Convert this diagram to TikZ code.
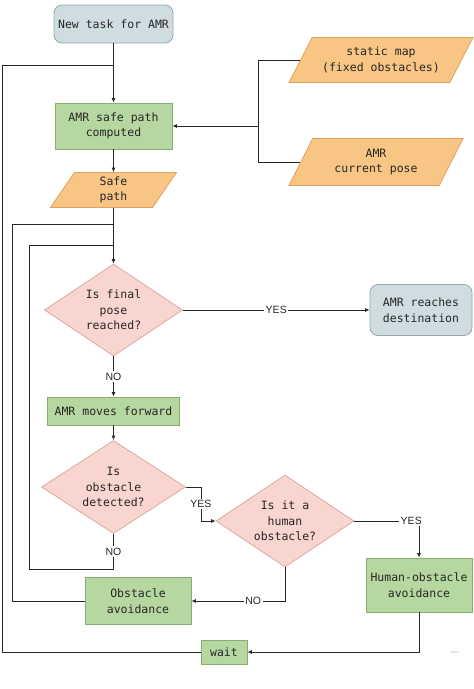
\documentclass[tikz,border=0pt]{standalone}
\usepackage{fontspec}
\setmonofont{DejaVu Sans Mono}
\setsansfont{Liberation Sans}
\usetikzlibrary{shapes.geometric,arrows.meta}

\definecolor{termfill}{HTML}{D0DDE0}
\definecolor{termline}{HTML}{97A6AA}
\definecolor{procfill}{HTML}{B7D7A1}
\definecolor{procline}{HTML}{88AD73}
\definecolor{iofill}{HTML}{F8C585}
\definecolor{ioline}{HTML}{DDA35E}
\definecolor{decfill}{HTML}{F8D5CF}
\definecolor{decline}{HTML}{DCAAA3}

\tikzset{
  txt/.style={align=center, font=\ttfamily\fontsize{11.5}{15.5}\selectfont, text=black!85},
  term/.style={txt, draw=termline, fill=termfill, rounded corners=8pt, line width=0.8pt},
  proc/.style={txt, draw=procline, fill=procfill, line width=0.8pt, inner xsep=1pt},
  io/.style={txt, draw=ioline, fill=iofill, trapezium, trapezium left angle=48,
    trapezium right angle=132, trapezium stretches body, line width=0.8pt, inner sep=0pt},
  decision/.style={txt, draw=decline, fill=decfill, diamond, aspect=1.5, inner sep=0pt, line width=0.8pt},
  line/.style={draw=black!85, line width=0.8pt},
  arr/.style={line, -{Latex[length=4.5pt,width=4pt]}},
  lbl/.style={font=\sffamily\fontsize{10.5}{12}\selectfont, fill=white, inner sep=1.5pt, text=black!85}
}

\begin{document}
\begin{tikzpicture}[x=1pt,y=-1pt]
\useasboundingbox (0,0) rectangle (474,689);

% left column
\node[term, minimum width=119pt, minimum height=38pt] (start) at (113.5,24) {New task for AMR};
\node[proc, minimum width=117pt, minimum height=46pt] (comp) at (113.5,126) {AMR safe path\\computed};
\node[io, minimum width=126pt, minimum height=35pt] (spath) at (113.5,190) {Safe\\path};
\node[decision, minimum width=138pt, minimum height=92pt] (d1) at (113.5,310) {Is final\\pose\\reached?};
\node[proc, minimum width=132pt, minimum height=28pt] (move) at (113.5,411) {AMR moves forward};
\node[decision, minimum width=144pt, minimum height=93pt] (d2) at (113.5,487) {Is\\obstacle\\detected?};
\node[proc, minimum width=106pt, minimum height=47pt] (avoid) at (138,601) {Obstacle\\avoidance};
\node[proc, minimum width=46pt, minimum height=24pt] (wait) at (224,652) {wait};

% right column
\node[io, minimum width=184pt, minimum height=45pt] (map) at (381,60) {static map\\(fixed obstacles)};
\node[io, minimum width=174pt, minimum height=47pt] (pose) at (376,162) {AMR\\current pose};
\node[term, minimum width=102pt, minimum height=51pt] (fin) at (421,310) {AMR reaches\\destination};
\node[decision, minimum width=138pt, minimum height=92pt] (d3) at (285,521) {Is it a\\human\\obstacle?};
\node[proc, minimum width=106pt, minimum height=54pt] (hum) at (419,585) {Human-obstacle\\avoidance};

\node[font=\sffamily\fontsize{4}{5}\selectfont, text=black!25] (miro) at (455,652) {miro};

% joins
\coordinate (m1) at (113.5,65);
\coordinate (m2) at (258,126);
\coordinate (m3) at (113.5,224);
\coordinate (m4) at (113.5,245);

\draw[arr] (start) -- (comp);
\draw[line] (map.west) -| (m2);
\draw[line] (pose.west) -| (m2);
\draw[arr] (m2) -- (comp.east);
\draw[arr] (comp) -- (spath);
\draw[arr] (spath.south) -- (d1.north);

\draw[arr] (d1.east) -- node[lbl]{YES} (fin.west);
\draw[arr] (d1.south) -- node[lbl]{NO} (move.north);
\draw[arr] (move) -- (d2);
\draw[arr] (d2.east) -- ++(15,0) |- node[lbl,pos=0.25]{YES} (d3.west);
\draw[line] (d2.south) -- node[lbl]{NO} ++(0,35) -- ++(-84.5,0) |- (m4);
\draw[arr] (d3.east) -| node[lbl,pos=0.44]{YES} (hum.north);
\draw[arr] (d3.south) |- node[lbl,pos=0.67]{NO} (avoid.east);
\draw[line] (avoid.west) -- ++(-72,0) |- (m3);
\draw[arr] (hum.south) |- (wait.east);
\draw[line] (wait.west) -- ++(-198,0) |- (m1);

\end{tikzpicture}
\end{document}
